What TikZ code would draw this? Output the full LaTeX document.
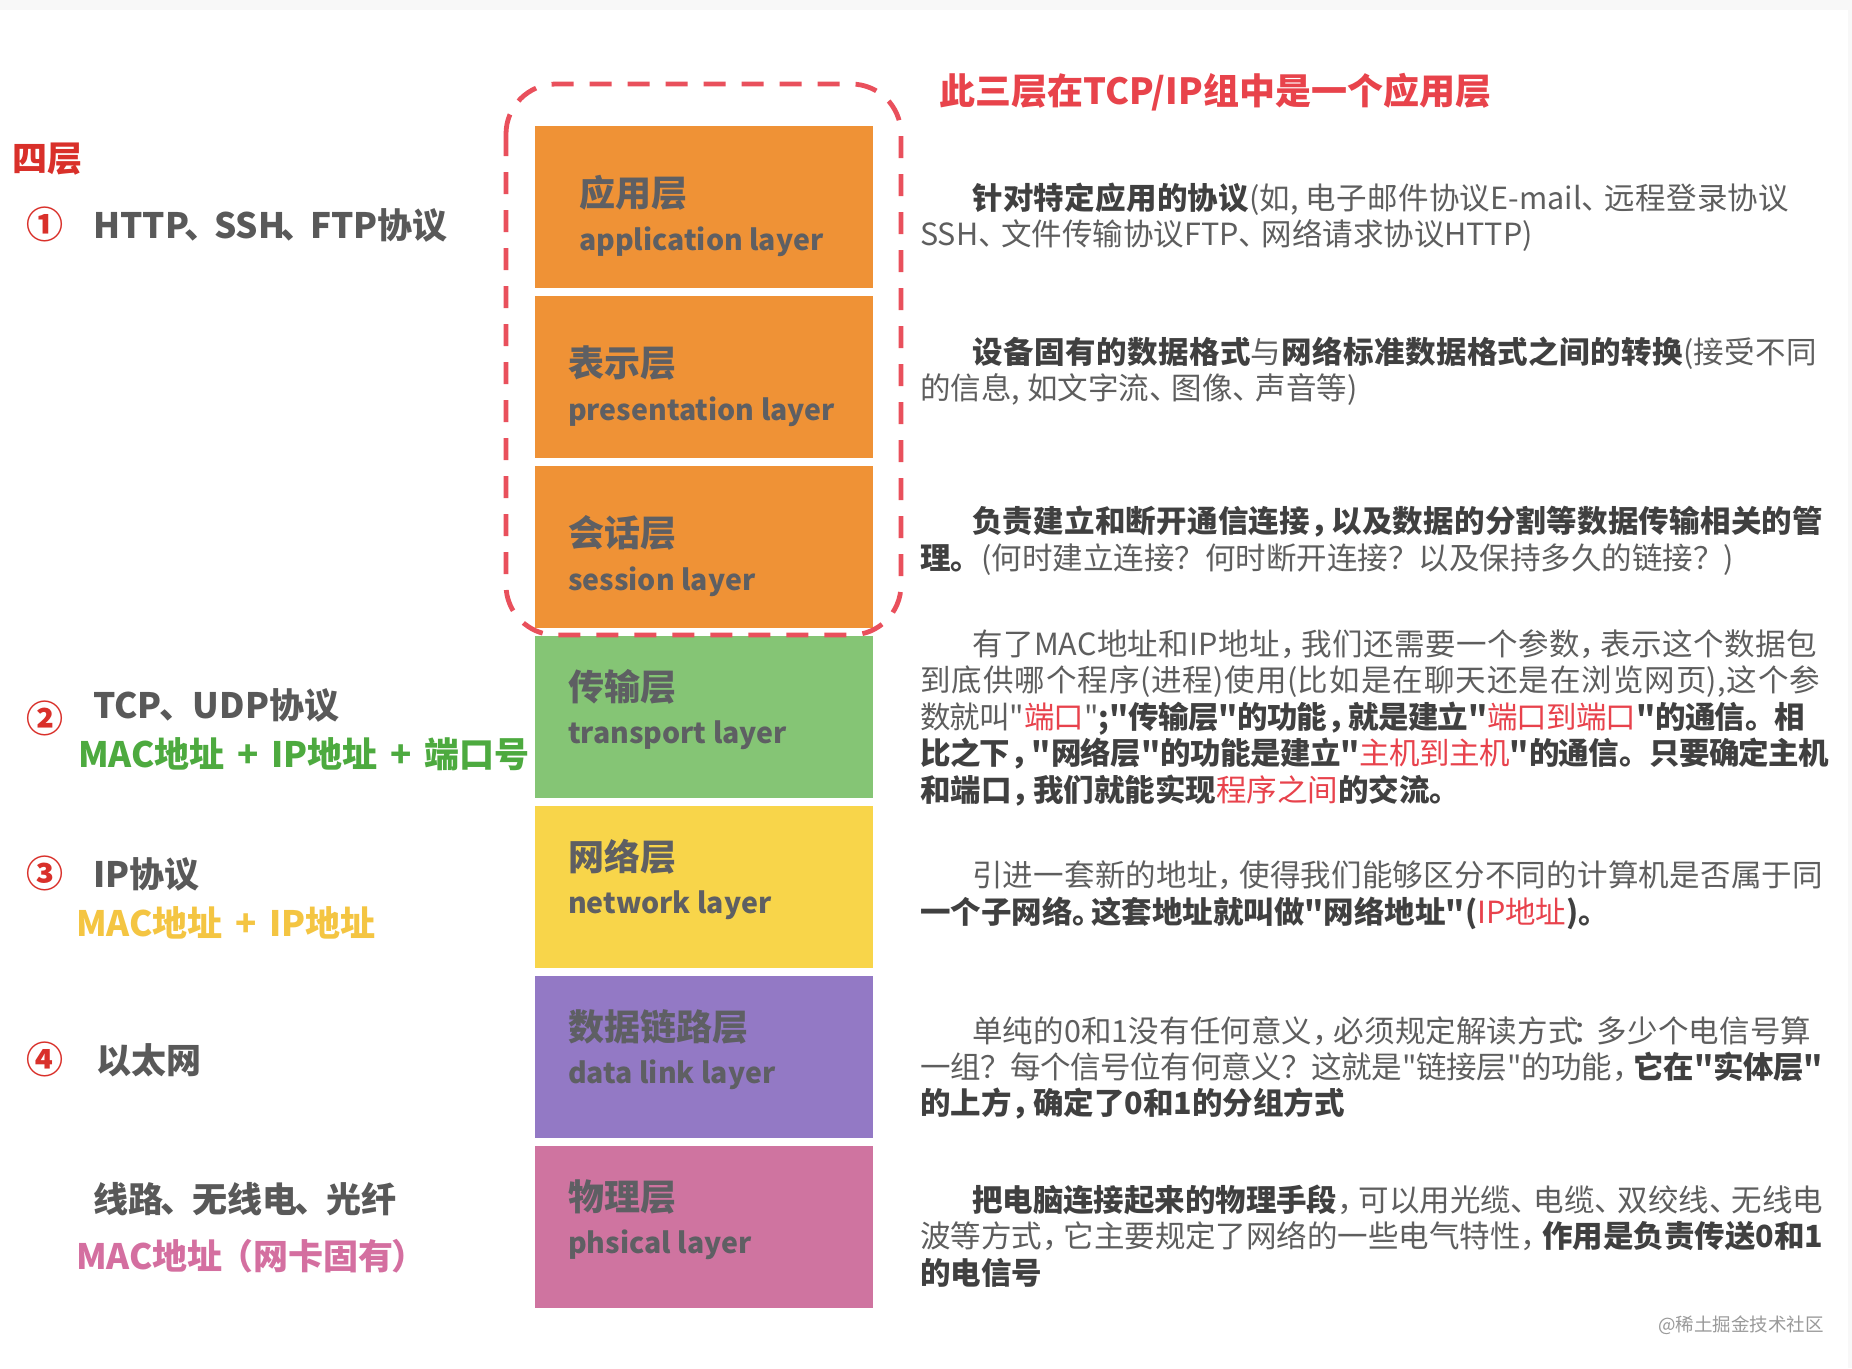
\documentclass[tikz,border=0pt]{standalone}
\usepackage{fontspec}
\newfontfamily\cjk{Noto Sans CJK SC}
\XeTeXlinebreaklocale "zh"
\XeTeXlinebreakskip=0pt plus 4pt minus 1.5pt
\definecolor{cOrange}{HTML}{EF9236}
\definecolor{cGreen}{HTML}{85C575}
\definecolor{cYellow}{HTML}{F8D54A}
\definecolor{cPurple}{HTML}{9379C5}
\definecolor{cPink}{HTML}{CF74A0}
\definecolor{cBoxText}{HTML}{5E5F63}
\definecolor{cDash}{HTML}{E9505C}
\definecolor{cRedHead}{HTML}{E8434B}
\definecolor{cRedDeep}{HTML}{D9302A}
\definecolor{cGrayL}{HTML}{595959}
\definecolor{cTxt}{HTML}{5E5E5E}
\definecolor{cTxtB}{HTML}{404040}
\definecolor{cHi}{HTML}{E8424C}
\definecolor{cGreenT}{HTML}{4DAA3F}
\definecolor{cYellowT}{HTML}{F4C542}
\definecolor{cPinkT}{HTML}{D46FA0}
\definecolor{cBand}{HTML}{F8F8F8}
\definecolor{cMark}{HTML}{9A9A9A}
\newcommand{\bb}[1]{{\bfseries\color{cTxtB}#1}}
\newcommand{\hi}[1]{{\color{cHi}#1}}
% one justified line of a given width
\newcommand{\jl}[2]{\parbox[b]{#1pt}{\tolerance=10000\parfillskip=0pt\relax #2}}
\newcommand{\dun}{\kern-5pt、\kern-5pt}
\newcommand{\cma}{，\kern-0.3em}
\newcommand{\cdun}{、\kern-0.25em}
\newcommand{\ccol}{\kern-0.2em：\kern-0.2em}
\newcommand{\cjdot}{。\kern-0.4em}
\begin{document}
\begin{tikzpicture}[x=1pt,y=-1pt,
  layer/.style={anchor=north west, minimum width=338pt, minimum height=162pt, inner sep=0pt, outer sep=0pt, draw=none},
  ltitle/.style={anchor=base west, inner sep=0pt, text=cBoxText, font=\cjk\fontsize{36}{40}\selectfont\bfseries},
  lsub/.style={anchor=base west, inner sep=0pt, text=cBoxText, font=\cjk\fontsize{28.5}{32}\selectfont\bfseries},
  desc/.style={anchor=base west, inner sep=0pt, text=cTxt, font=\cjk\fontsize{30.5}{36}\selectfont},
  lefttxt/.style={anchor=base west, inner sep=0pt, font=\cjk\fontsize{35}{40}\selectfont\bfseries},
  circnum/.style={anchor=base west, inner sep=0pt, text=cRedDeep, font=\cjk\fontsize{37}{40}\selectfont\bfseries},
  dashframe/.style={draw=cDash, line width=4.8pt, dash pattern=on 22pt off 16pt, rounded corners=50pt}
]
\useasboundingbox (0,0) rectangle (1852,1368);
\fill[white] (0,0) rectangle (1852,1368);
\fill[cBand] (0,0) rectangle (1852,10);
\fill[cBand] (1848,0) rectangle (1852,1368);

% layer boxes
\node[layer, fill=cOrange] (app) at (535,126) {};
\node[layer, fill=cOrange] (pre) at (535,296) {};
\node[layer, fill=cOrange] (ses) at (535,466) {};
\node[layer, fill=cGreen]  (tra) at (535,636) {};
\node[layer, fill=cYellow] (net) at (535,806) {};
\node[layer, fill=cPurple] (dat) at (535,976) {};
\node[layer, fill=cPink]   (phy) at (535,1146) {};

\node[ltitle] (appT) at (579,206) {应用层};
\node[lsub]   (appS) at (579,250.5) {application layer};
\node[ltitle] (preT) at (568,376) {表示层};
\node[lsub]   (preS) at (568,420.5) {presentation layer};
\node[ltitle] (sesT) at (568,546) {会话层};
\node[lsub]   (sesS) at (568,590.5) {session layer};
\node[ltitle] (traT) at (568,700) {传输层};
\node[lsub]   (traS) at (568,743.5) {transport layer};
\node[ltitle] (netT) at (568,870) {网络层};
\node[lsub]   (netS) at (568,913.5) {network layer};
\node[ltitle] (datT) at (568,1040) {数据链路层};
\node[lsub]   (datS) at (568,1083.5) {data link layer};
\node[ltitle] (phyT) at (568,1210) {物理层};
\node[lsub]   (phyS) at (568,1253.5) {phsical layer};

% dashed frame around the upper three layers
\draw[dashframe] (506,84) rectangle (901,635);

% heading
\node[anchor=base west, inner sep=0pt, text=cRedHead, font=\cjk\fontsize{36}{40}\selectfont\bfseries] (head) at (939,104) {此三层在TCP/IP组中是一个应用层};

% left column
\node[lefttxt, text=cRedDeep] (four) at (12,171) {四层};
\node[circnum] (c1) at (26,238) {①};
\node[lefttxt, text=cGrayL] (l1) at (93,238) {HTTP\dun SSH\dun FTP协议};
\node[circnum] (c2) at (26,732) {②};
\node[lefttxt, text=cGrayL] (l2) at (93,718) {TCP\kern-2pt、\kern-2pt UDP协议};
\node[lefttxt, text=cGreenT] (l2b) at (78,767) {MAC地址\hspace{0.36em}+\hspace{0.36em}IP地址\hspace{0.36em}+\hspace{0.36em}端口号};
\node[circnum] (c3) at (26,887) {③};
\node[lefttxt, text=cGrayL] (l3) at (93,887) {IP协议};
\node[lefttxt, text=cYellowT] (l3b) at (76,936) {MAC地址\hspace{0.36em}+\hspace{0.36em}IP地址};
\node[circnum] (c4) at (26,1073) {④};
\node[lefttxt, text=cGrayL] (l4) at (96,1073) {以太网};
\node[lefttxt, text=cGrayL] (l5) at (93,1212) {线路\kern-3pt、\kern-3pt 无线电\kern-3pt、\kern-3pt 光纤};
\node[lefttxt, text=cPinkT] (l5b) at (76,1269) {MAC地址\kern-4pt（网卡固有\kern-2pt）};

% right descriptions
\node[desc] (p1a) at (972,209.6) {\jl{817}{\bb{针对特定应用的协议}(如, 电子邮件协议E-mail\cdun 远程登录协议}};
\node[desc] (p1b) at (920,245.6) {SSH\cdun 文件传输协议FTP\cdun 网络请求协议HTTP)};

\node[desc] (p2a) at (972,363.6) {\jl{845}{\bb{设备固有的数据格式}与\bb{网络标准数据格式之间的转换}(接受不同}};
\node[desc] (p2b) at (920,399.6) {的信息, 如文字流\cdun 图像\cdun 声音等)};

\node[desc] (p3a) at (972,532.6) {\jl{851}{\bb{负责建立和断开通信连接\cma 以及数据的分割等数据传输相关的管}}};
\node[desc] (p3b) at (920,569.6) {\bb{理。}(何时建立连接？何时断开连接？以及保持多久的链接？)};

\node[desc] (p4a) at (972,655.6) {\jl{845}{有了MAC地址和IP地址\cma 我们还需要一个参数\cma 表示这个数据包}};
\node[desc] (p4b) at (920,691.6) {\jl{900}{到底供哪个程序(进程)使用(比如是在聊天还是在浏览网页),这个参}};
\node[desc] (p4c) at (920,728.6) {\jl{885}{数就叫"\hi{端口}"\bb{;"传输层"的功能\cma 就是建立"}\hi{端口到端口}\bb{"的通信。相}}};
\node[desc] (p4d) at (920,764.6) {\jl{909}{\bb{比之下\cma "网络层"的功能是建立"}\hi{主机到主机}\bb{"的通信。只要确定主机}}};
\node[desc] (p4e) at (920,801.6) {\bb{和端口\cma 我们就能实现}\hi{程序之间}\bb{的交流。}};

\node[desc] (p5a) at (972,886.6) {\jl{851}{引进一套新的地址\cma 使得我们能够区分不同的计算机是否属于同}};
\node[desc] (p5b) at (920,923.6) {\bb{一个子网络\cjdot 这套地址就叫做"网络地址"(}\hi{IP地址}\bb{)。}};

\node[desc] (p6a) at (972,1042.6) {\jl{839}{单纯的0和1没有任何意义\cma 必须规定解读方式\ccol 多少个电信号算}};
\node[desc] (p6b) at (920,1078.6) {\jl{903}{一组？每个信号位有何意义？这就是"链接层"的功能\cma \bb{它在"实体层"}}};
\node[desc] (p6c) at (920,1114.6) {\bb{的上方\cma 确定了0和1的分组方式}};

\node[desc] (p7a) at (972,1211.6) {\jl{851}{\bb{把电脑连接起来的物理手段}\cma 可以用光缆\cdun 电缆\cdun 双绞线\cdun 无线电}};
\node[desc] (p7b) at (920,1247.6) {\jl{903}{波等方式\cma 它主要规定了网络的一些电气特性\cma \bb{作用是负责传送0和1}}};
\node[desc] (p7c) at (920,1284.6) {\bb{的电信号}};

\node[anchor=base west, inner sep=0pt, text=cMark, font=\cjk\fontsize{18.5}{22}\selectfont] (mark) at (1658,1331) {@稀土掘金技术社区};
\end{tikzpicture}
\end{document}
